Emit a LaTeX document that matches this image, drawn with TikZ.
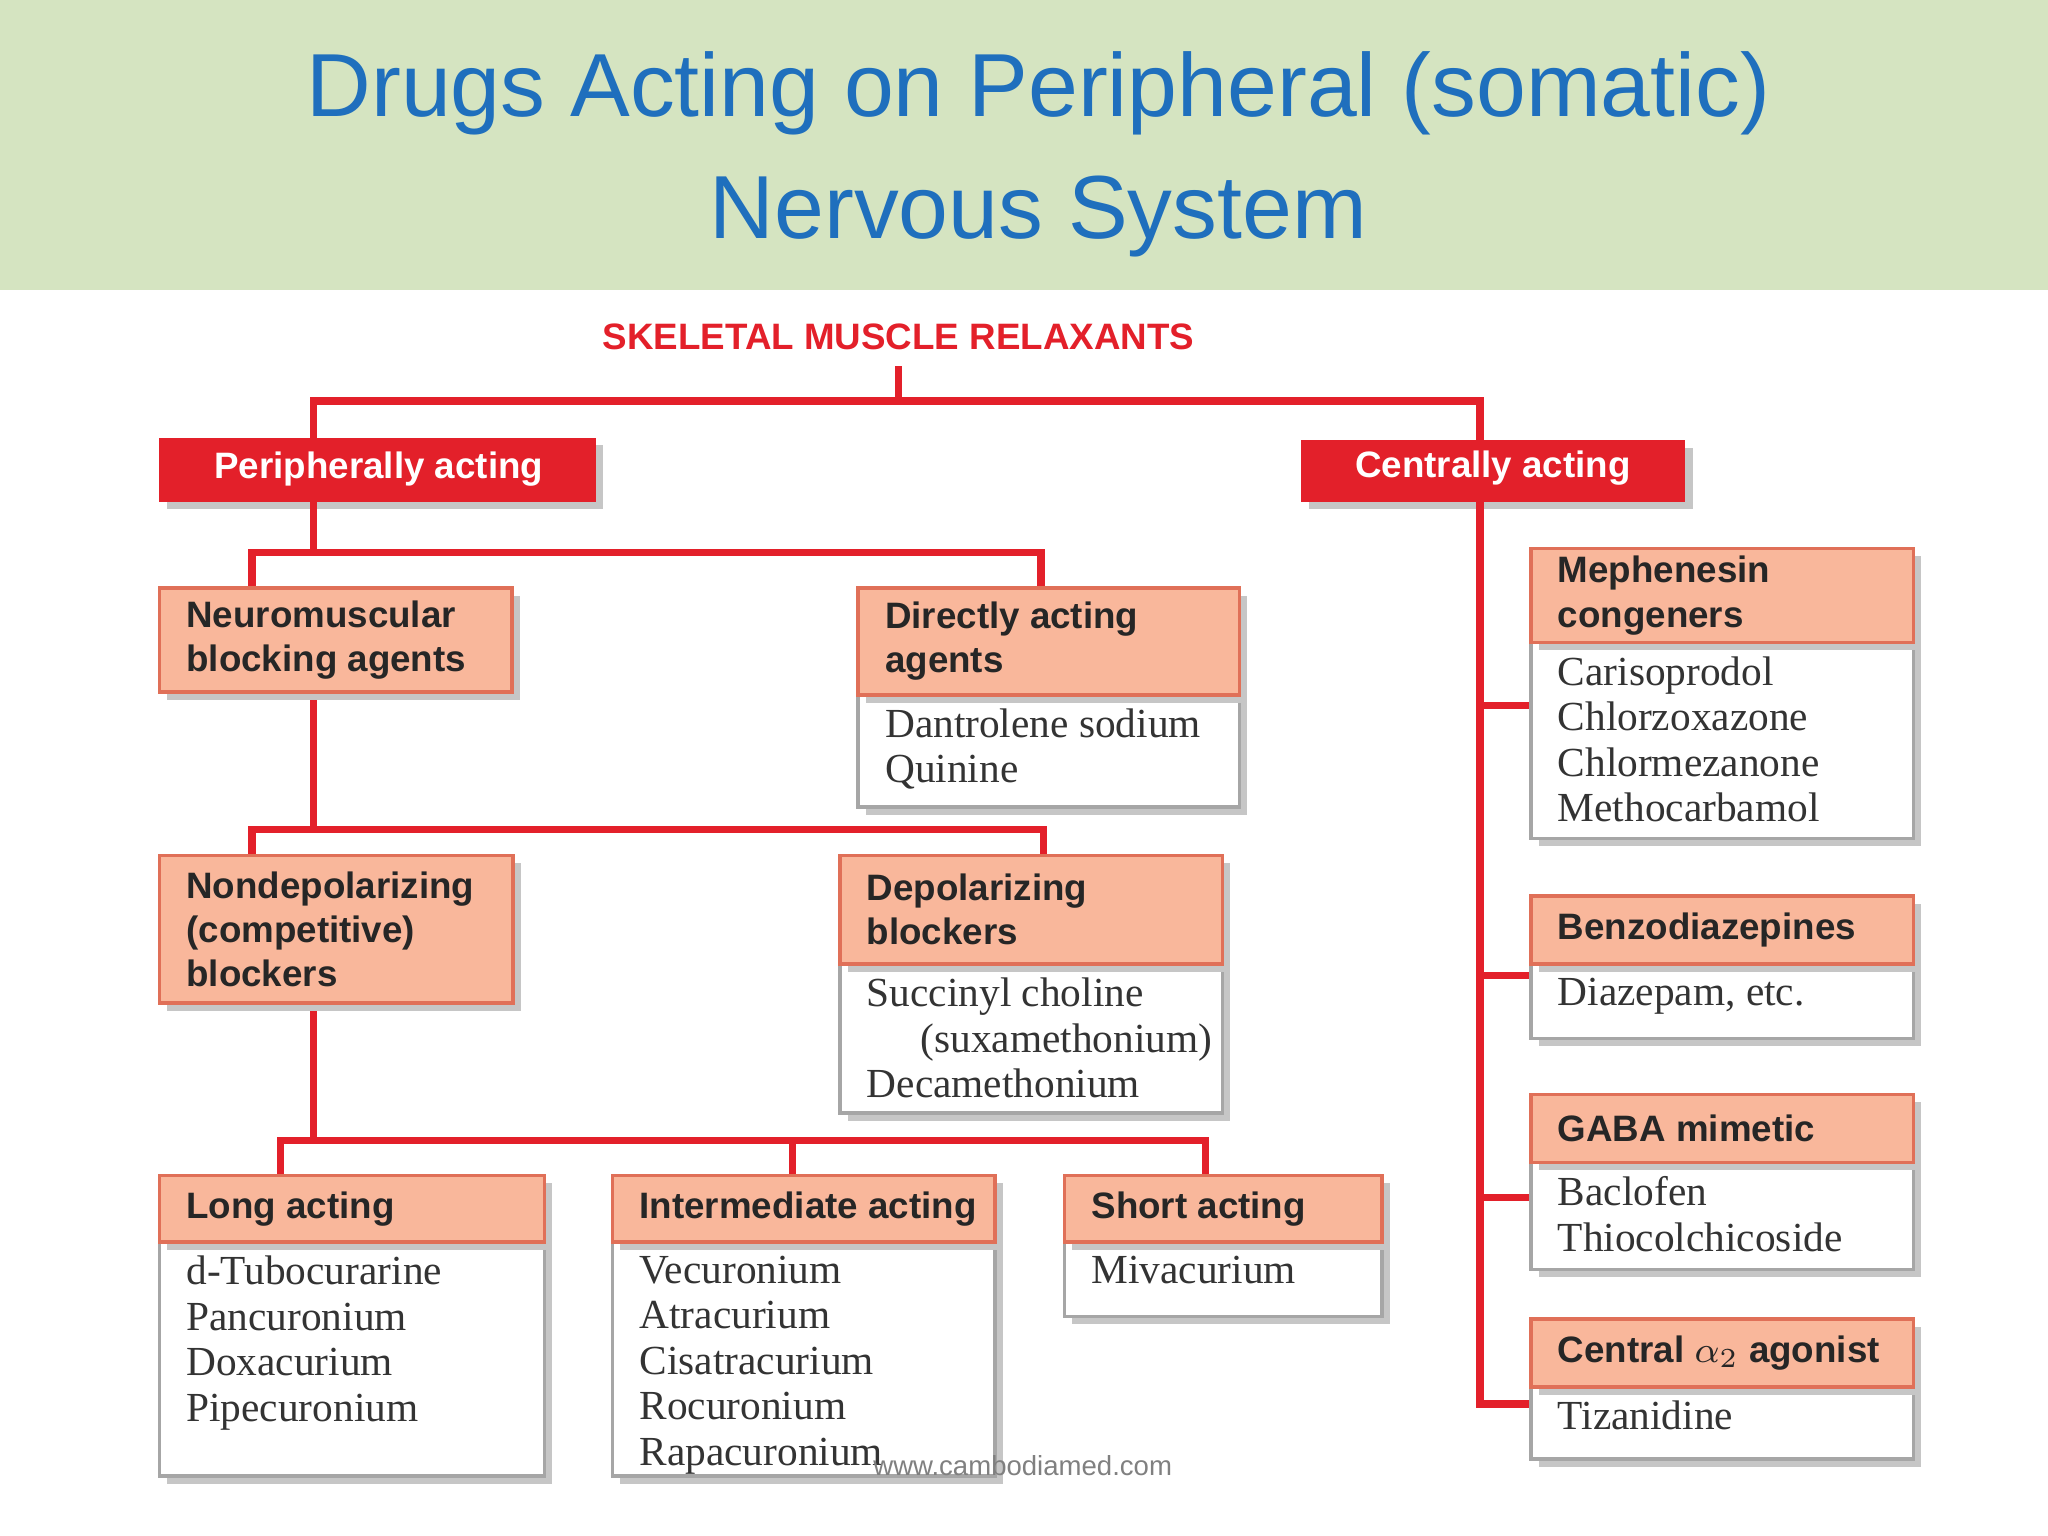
\documentclass[tikz,border=0pt]{standalone}
\usepackage{fontspec}
\setmainfont{Liberation Serif}
\setsansfont{Liberation Sans}
\definecolor{hdrgreen}{HTML}{D5E4C1}
\definecolor{ttlblue}{HTML}{1F6FBD}
\definecolor{rd}{HTML}{E3202A}
\definecolor{salmon}{HTML}{F9B79B}
\definecolor{salbord}{HTML}{E07058}
\tikzset{
 conn/.style={draw=rd,line width=1.6pt},
 hfill/.style={fill=salmon,draw=salbord,line width=0.8pt},
 lfill/.style={fill=white,draw=gray!70,line width=0.8pt},
 shad/.style={fill=gray!45},
 htxt/.style={font=\sffamily\bfseries\fontsize{8}{9.6}\selectfont,align=left,inner sep=0pt,text=black!85},
 ltxt/.style={font=\fontsize{9}{9.9}\selectfont,align=left,inner sep=0pt,text=black!80},
}
% name, x1,y1,x2,y2 (header), y3 (list bottom or none), header text, list text
\newcommand\mkhead[6]{%
 \fill[shad] ({#2+6},{#3+6}) rectangle ({#4+6},{#5+6});
 \path[hfill] (#2,#3) rectangle (#4,#5);
 \node[htxt,anchor=west] (#1) at ({#2+20},{(#3+#5)/2}) {#6};}
\newcommand\mklist[6]{%
 \fill[shad] ({#2+6},{#3+6}) rectangle ({#4+6},{#5+6});
 \path[lfill] (#2,#3) rectangle (#4,#5);
 \node[ltxt,anchor=north west] (#1) at ({#2+20},{#3+10}) {#6};}
\begin{document}
\begin{tikzpicture}[x=0.01cm,y=-0.01cm]
\useasboundingbox (0,0) rectangle (1568,1176);
\fill[hdrgreen] (0,0) rectangle (1568,222);
\node[font=\sffamily\fontsize{19.5}{26.5}\selectfont,text=ttlblue,align=center] (title) at (795,118) {Drugs Acting on Peripheral (somatic)\\Nervous System};
\node[font=\sffamily\bfseries\fontsize{8}{9}\selectfont,text=rd] (root) at (688,258) {SKELETAL MUSCLE RELAXANTS};
% top red boxes
\fill[shad] (128,341) rectangle (462,390);
\fill[rd] (122,335) rectangle (456,384);
\node[font=\sffamily\bfseries\fontsize{8}{9}\selectfont,text=white] (per) at (290,359) {Peripherally acting};
\fill[shad] (1002,343) rectangle (1296,390);
\fill[rd] (996,337) rectangle (1290,384);
\node[font=\sffamily\bfseries\fontsize{8}{9}\selectfont,text=white] (cen) at (1143,358) {Centrally acting};
% connectors
\draw[conn] (root.south) -- (688,307);
\draw[conn] (240,335) -- (240,307) -- (1133,307) -- (1133,337);
\draw[conn] (240,384) -- (240,423);
\draw[conn] (193,450) -- (193,423) -- (797,423) -- (797,450);
\draw[conn] (240,530) -- (240,635);
\draw[conn] (193,655) -- (193,635) -- (799,635) -- (799,655);
\draw[conn] (240,768) -- (240,873);
\draw[conn] (215,900) -- (215,873) -- (923,873) -- (923,900);
\draw[conn] (607,873) -- (607,900);
\draw[conn] (1133,384) -- (1133,1075) -- (1172,1075);
\draw[conn] (1133,540) -- (1172,540);
\draw[conn] (1133,747) -- (1172,747);
\draw[conn] (1133,917) -- (1172,917);
% peripheral boxes
\mkhead{nmb}{122}{450}{392}{530}{Neuromuscular\\blocking agents}
\mklist{dal}{657}{532}{949}{618}{Dantrolene sodium\\Quinine}
\mkhead{da}{657}{450}{949}{532}{Directly acting\\agents}
\mkhead{nd}{122}{655}{393}{768}{Nondepolarizing\\(competitive)\\blockers}
\mklist{dpl}{643}{738}{936}{852}{Succinyl choline\\\hspace*{1.3em}(suxamethonium)\\Decamethonium}
\mkhead{dp}{643}{655}{936}{738}{Depolarizing\\blockers}
\mklist{lal}{122}{951}{417}{1130}{d-Tubocurarine\\Pancuronium\\Doxacurium\\Pipecuronium}
\mkhead{la}{122}{900}{417}{951}{Long acting}
\mklist{ial}{469}{951}{762}{1130}{Vecuronium\\Atracurium\\Cisatracurium\\Rocuronium\\Rapacuronium}
\mkhead{ia}{469}{900}{762}{951}{Intermediate acting}
\mklist{sal}{815}{951}{1058}{1008}{Mivacurium}
\mkhead{sa}{815}{900}{1058}{951}{Short acting}
% central boxes
\mklist{mpl}{1172}{492}{1465}{642}{Carisoprodol\\Chlorzoxazone\\Chlormezanone\\Methocarbamol}
\mkhead{mp}{1172}{420}{1465}{492}{Mephenesin\\congeners}
\mklist{bzl}{1172}{738}{1465}{795}{Diazepam, etc.}
\mkhead{bz}{1172}{686}{1465}{738}{Benzodiazepines}
\mklist{gbl}{1172}{890}{1465}{972}{Baclofen\\Thiocolchicoside}
\mkhead{gb}{1172}{838}{1465}{890}{GABA mimetic}
\mklist{c2l}{1172}{1062}{1465}{1117}{Tizanidine}
\mkhead{c2}{1172}{1010}{1465}{1062}{Central $\alpha_2$ agonist}
\node[font=\sffamily\fontsize{6}{7}\selectfont,text=gray] (wm) at (783,1122) {www.cambodiamed.com};
\end{tikzpicture}
\end{document}
